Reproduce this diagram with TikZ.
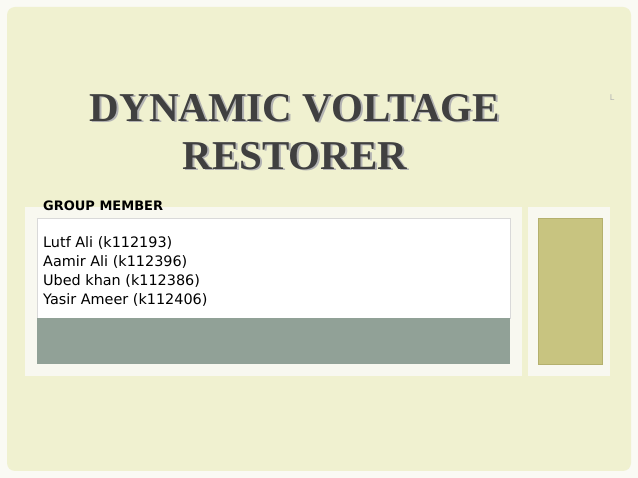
\documentclass[tikz,border=0pt]{standalone}
\usepackage{fontspec}
\setmainfont{Liberation Serif}
\newfontfamily\bodyf{DejaVu Sans}
\definecolor{outerbg}{RGB}{250,250,244}
\definecolor{panel}{RGB}{240,241,208}
\definecolor{frame}{RGB}{248,248,240}
\definecolor{greyband}{RGB}{145,161,151}
\definecolor{khaki}{RGB}{200,196,128}
\definecolor{khakiedge}{RGB}{180,176,110}
\definecolor{ttlc}{RGB}{64,64,64}
\begin{document}
\begin{tikzpicture}[x=1pt,y=-1pt,
  lbl/.style={anchor=west,inner sep=0pt,font=\bodyf\fontsize{14.4}{16}\selectfont,text=black},
  ttl/.style={font=\bfseries\fontsize{41}{48}\selectfont,inner sep=0pt}]
\useasboundingbox (0,0) rectangle (638,478);
\fill[outerbg] (0,0) rectangle (638,478);
\fill[panel,rounded corners=8] (7,7) rectangle (631,471);
\fill[frame] (25,207) rectangle (522,376);
\filldraw[fill=white,draw=black!15] (37,218) rectangle (510,318);
\fill[greyband] (37,318) rectangle (510,364);
\fill[frame] (528,207) rectangle (610,376);
\filldraw[fill=khaki,draw=khakiedge] (538,218) rectangle (602,364);
\foreach \t/\y in {DYNAMIC VOLTAGE/108,RESTORER/156}{
  \node[ttl,text=black!30] at (297,\y+1.5) {\t};
  \node[ttl,text=ttlc] at (295,\y) {\t};}
\node[inner sep=0pt,text=black!30,font=\bodyf\fontsize{8}{9}\selectfont] (l) at (612,98) {L};
\node[lbl,font=\bodyf\bfseries\fontsize{13}{16}\selectfont] (g) at (43,206) {GROUP MEMBER};
\node[lbl] (a) at (43,243) {Lutf Ali (k112193)};
\node[lbl] (b) at (43,262) {Aamir Ali (k112396)};
\node[lbl] (c) at (43,281) {Ubed khan (k112386)};
\node[lbl] (d) at (43,300) {Yasir Ameer (k112406)};
\end{tikzpicture}
\end{document}
